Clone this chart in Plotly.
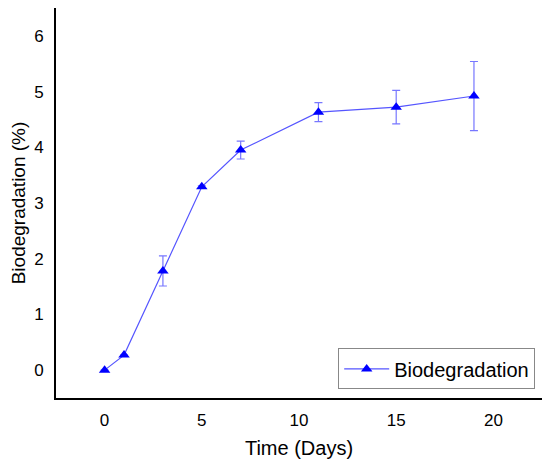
import plotly.graph_objects as go

# Biodegradation over time
days = [0, 1, 3, 5, 7, 11, 15, 19]
biodeg = [0.0, 0.27, 1.78, 3.29, 3.95, 4.63, 4.72, 4.92]
biodeg_err = [0.0, 0.0, 0.27, 0.02, 0.16, 0.17, 0.30, 0.62]

fig = go.Figure()

fig.add_trace(go.Scatter(
    x=days,
    y=biodeg,
    mode='lines+markers',
    name='Biodegradation',
    line=dict(color='#5555ff', width=1.2),
    marker=dict(symbol='triangle-up', size=10, color='#0000ff'),
    error_y=dict(type='data', array=biodeg_err, color='#7777ff',
                 thickness=1.2, width=4),
))

axis_common = dict(
    showline=True, linecolor='black', linewidth=2,
    showgrid=False, zeroline=False, ticks='',
    automargin=False,
    tickfont=dict(size=17, color='black'),
)

fig.update_xaxes(range=[-2.5, 22.5], tickvals=[0, 5, 10, 15, 20],
                 ticklabelstandoff=6,
                 title=dict(text='Time (Days)', font=dict(size=20, color='black'),
                            standoff=12),
                 **axis_common)
fig.update_yaxes(range=[-0.5, 6.5], tickvals=[0, 1, 2, 3, 4, 5, 6],
                 ticklabelstandoff=7,
                 title=dict(text='Biodegradation (%)', font=dict(size=19, color='black'),
                            standoff=7),
                 **axis_common)

# page body adds an 8px margin, so the figure is sized to fit inside the window
fig.update_layout(
    width=542, height=454,
    margin=dict(l=48, r=8, t=0, b=64),
    paper_bgcolor='white', plot_bgcolor='white',
    font=dict(family='Liberation Sans, Arial, sans-serif', color='black'),
    showlegend=True,
    legend=dict(x=0.986, y=0.022, xanchor='right', yanchor='bottom',
                bordercolor='#888888', borderwidth=1, bgcolor='white',
                itemwidth=45, font=dict(size=20)),
)

fig.write_html("out.html")
